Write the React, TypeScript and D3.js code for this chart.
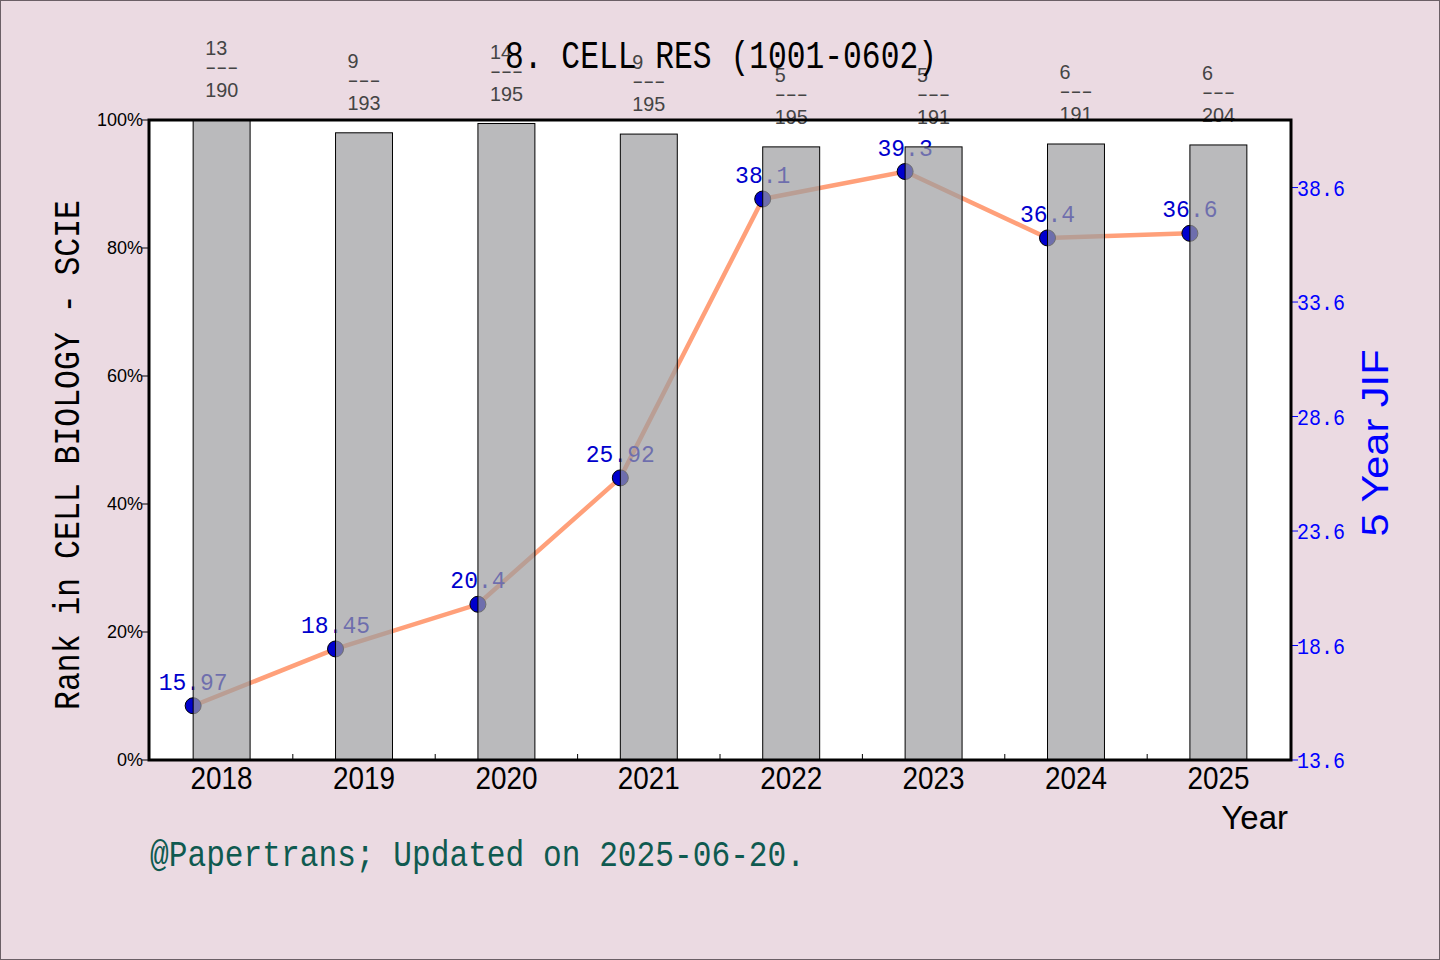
import * as d3 from "d3"

const years = ["2018", "2019", "2020", "2021", "2022", "2023", "2024", "2025"]
const rankPct = [100, 98, 99.45, 97.8, 95.8, 95.8, 96.25, 96.1]
const rankNum = ["13", "9", "14", "9", "5", "5", "6", "6"]
const rankTotal = ["190", "193", "195", "195", "195", "191", "191", "204"]
const jif = [15.97, 18.45, 20.4, 25.92, 38.1, 39.3, 36.4, 36.6]
const jifLabels = ["15.97", "18.45", "20.4", "25.92", "38.1", "39.3", "36.4", "36.6"]
const leftTicks = [0, 20, 40, 60, 80, 100]
const rightTicks = [13.6, 18.6, 23.6, 28.6, 33.6, 38.6]

const W = 1440
const H = 960
const plot = { left: 149, right: 1291, top: 120, bottom: 760 }

const mono = "'Liberation Mono', 'DejaVu Sans Mono', monospace"
const sans = "'Liberation Sans', Arial, sans-serif"
const narrow = "'Liberation Sans Narrow', 'Liberation Sans', Arial, sans-serif"

export default function App() {
  const x = d3.scaleBand<string>().domain(years).range([plot.left, plot.right]).paddingInner(0.6).paddingOuter(0.31)
  const yL = d3.scaleLinear().domain([0, 100]).range([plot.bottom, plot.top])
  const yR = d3.scaleLinear().domain([13.6, 41.55]).range([plot.bottom, plot.top])
  const bw = x.bandwidth()
  const step = x.step()

  const line = d3
    .line<number>()
    .x((_, i) => x(years[i]) as number)
    .y((d) => yR(d))

  // minor ticks sit between the bars
  const boundaries = years.slice(1).map((y) => (x(y) as number) - (step - bw) / 2)

  return (
    <svg
      width={W}
      height={H}
      style={{ position: "absolute", left: 0, top: 0, display: "block" }}
    >
      <rect x={0.5} y={0.5} width={W - 1} height={H - 1} fill="#ebdae2" stroke="#6b5f66" strokeWidth={1} />
      <rect x={plot.left} y={plot.top} width={plot.right - plot.left} height={plot.bottom - plot.top} fill="#ffffff" />

      {/* JIF line */}
      <path d={line(jif) ?? ""} fill="none" stroke="#ffa07a" strokeWidth={4.5} />
      {jif.map((v, i) => (
        <circle key={years[i]} cx={x(years[i])} cy={yR(v)} r={8} fill="#0000cd" stroke="#000" strokeWidth={1} />
      ))}
      {jif.map((v, i) => (
        <text
          key={"l" + years[i]}
          x={x(years[i])}
          y={yR(v) - 16}
          textAnchor="middle"
          fontFamily={mono}
          fontSize={23}
          fill="#0000cd"
          textLength={jifLabels[i].length * 13.8}
          lengthAdjust="spacingAndGlyphs"
        >
          {jifLabels[i]}
        </text>
      ))}

      {/* rank bars, semi transparent over the line */}
      {rankPct.map((v, i) => (
        <rect
          key={"b" + years[i]}
          x={x(years[i])}
          y={yL(v)}
          width={bw}
          height={plot.bottom - yL(v)}
          fill="rgb(156,157,160)"
          fillOpacity={0.7}
          stroke="#000"
          strokeWidth={1}
        />
      ))}

      {/* rank fractions above bars */}
      {rankPct.map((v, i) => {
        const bx = (x(years[i]) as number) + 12
        const top = yL(v)
        return (
          <g key={"r" + years[i]} fontFamily={narrow} fontSize={21} fill="#444">
            <text x={bx} y={top - 65} textLength={rankNum[i].length * 11} lengthAdjust="spacingAndGlyphs">
              {rankNum[i]}
            </text>
            <text x={bx} y={top - 46} textLength={33} lengthAdjust="spacingAndGlyphs">
              ---
            </text>
            <text x={bx} y={top - 23} textLength={33} lengthAdjust="spacingAndGlyphs">
              {rankTotal[i]}
            </text>
          </g>
        )
      })}

      {/* left axis */}
      {leftTicks.map((t) => (
        <g key={"lt" + t}>
          <line x1={plot.left - 7} x2={plot.left} y1={yL(t)} y2={yL(t)} stroke="#000" strokeWidth={1} />
          <text x={plot.left - 6} y={yL(t) + 6} textAnchor="end" fontFamily={sans} fontSize={18} fill="#000">
            {t}%
          </text>
        </g>
      ))}

      {/* right axis */}
      {rightTicks.map((t) => (
        <g key={"rt" + t}>
          <line x1={plot.right} x2={plot.right + 7} y1={yR(t)} y2={yR(t)} stroke="#0000ff" strokeWidth={1} />
          <text
            x={plot.right + 6}
            y={yR(t) + 8}
            fontFamily={mono}
            fontSize={22}
            fill="#0000ff"
            textLength={48}
            lengthAdjust="spacingAndGlyphs"
          >
            {t.toFixed(1)}
          </text>
        </g>
      ))}

      {/* bottom axis */}
      {boundaries.map((b, i) => (
        <line key={"mt" + i} x1={b} x2={b} y1={plot.bottom} y2={plot.bottom - 6} stroke="#000" strokeWidth={1} />
      ))}
      {years.map((yr) => (
        <text
          key={"yl" + yr}
          x={(x(yr) as number) + bw / 2}
          y={789}
          textAnchor="middle"
          fontFamily={sans}
          fontSize={32}
          fill="#000"
          textLength={62}
          lengthAdjust="spacingAndGlyphs"
        >
          {yr}
        </text>
      ))}

      <rect
        x={plot.left}
        y={plot.top}
        width={plot.right - plot.left}
        height={plot.bottom - plot.top}
        fill="none"
        stroke="#000"
        strokeWidth={3}
      />

      {/* axis titles */}
      <text
        transform={`translate(79,455) rotate(-90)`}
        textAnchor="middle"
        fontFamily={mono}
        fontSize={37}
        fill="#000"
        textLength={510}
        lengthAdjust="spacingAndGlyphs"
      >
        Rank in CELL BIOLOGY - SCIE
      </text>
      <text
        transform={`translate(1388,443) rotate(-90)`}
        textAnchor="middle"
        fontFamily={sans}
        fontSize={37}
        fill="#0000ff"
        textLength={187}
        lengthAdjust="spacingAndGlyphs"
      >
        5 Year JIF
      </text>
      <text x={1288} y={829} textAnchor="end" fontFamily={sans} fontSize={33} fill="#000">
        Year
      </text>

      {/* title */}
      <text
        x={721}
        y={68}
        textAnchor="middle"
        fontFamily={mono}
        fontSize={38}
        fill="#000"
        textLength={432}
        lengthAdjust="spacingAndGlyphs"
      >
        8. CELL RES (1001-0602)
      </text>

      <text
        x={150}
        y={866}
        fontFamily={mono}
        fontSize={37}
        fill="#0f5a50"
        textLength={655}
        lengthAdjust="spacingAndGlyphs"
      >
        @Papertrans; Updated on 2025-06-20.
      </text>
    </svg>
  )
}
